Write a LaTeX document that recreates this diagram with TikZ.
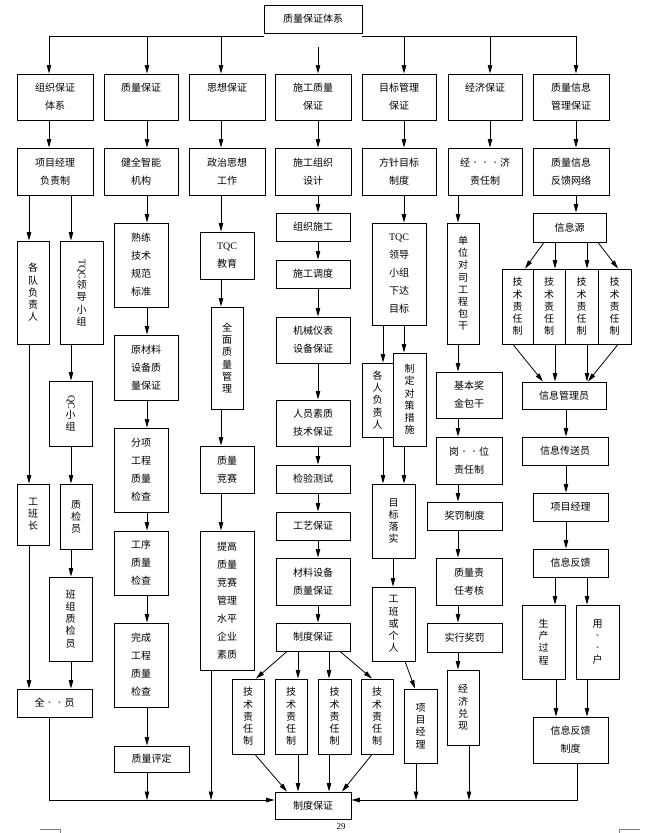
\documentclass[tikz,border=0pt]{standalone}
\usepackage{fontspec}
\setmainfont{Noto Sans CJK SC}
\newfontfamily\lat{Liberation Serif}
\usetikzlibrary{arrows.meta}
\newcommand\bx[7][box]{\node[#1, minimum width={(#5-#3)*1pt}, minimum height={(#6-#4)*1pt}] (#2) at ({(#3+#5)/2},{(#4+#6)/2}) {#7};}
\newcommand\va[3]{\coordinate (ta) at (#3,0); \draw[arr] (#1.south -| ta) -- (#2.north -| ta);}
\newcommand\da[4]{\coordinate (ta) at (#3,0); \coordinate (tb) at (#4,0); \draw[arr] (#1.south -| ta) -- (#2.north -| tb);}
\newcommand\ba[2]{\coordinate (ta) at (#2,0); \draw[arr] (#1.south -| ta) -- (ta |- by);}
\newcommand\dt{\textcolor{gray}{·}}
\newcommand\rtqc{\rotatebox[origin=c]{-90}{\lat TQC}}
\tikzset{
  box/.style={draw, line width=0.9pt, inner sep=0pt, align=center, font=\fontsize{10}{18}\selectfont},
  vbox/.style={box, font=\fontsize{10}{12.2}\selectfont},
  arr/.style={line width=0.8pt, -{Triangle[length=8.5pt,width=4.5pt]}},
  ln/.style={line width=0.8pt},
}
\begin{document}
\begin{tikzpicture}[x=1pt,y=-1pt]
\useasboundingbox (0,0) rectangle (649,833);
\fill[white] (0,0) rectangle (649,833);
% top
\bx{sys}{264}{5}{362}{33}{质量保证体系}
% row 1
\bx{r1a}{17}{74}{93}{120}{组织保证\\体系}
\bx{r1b}{104}{74}{178}{120}{质量保证\\\phantom{质}}
\bx{r1c}{189}{74}{265}{120}{思想保证\\\phantom{质}}
\bx{r1d}{275}{74}{351}{120}{施工质量\\保证}
\bx{r1e}{362}{74}{436}{120}{目标管理\\保证}
\bx{r1f}{448}{74}{522}{120}{经济保证\\\phantom{质}}
\bx{r1g}{533}{74}{609}{120}{质量信息\\管理保证}
% row 2
\bx{r2a}{17}{148}{93}{195}{项目经理\\负责制}
\bx{r2b}{104}{148}{178}{195}{健全智能\\机构}
\bx{r2c}{189}{148}{265}{195}{政治思想\\工作}
\bx{r2d}{275}{148}{351}{195}{施工组织\\设计}
\bx{r2e}{362}{148}{436}{195}{方针目标\\制度}
\bx{r2f}{448}{148}{522}{195}{经\dt\dt\dt 济\\责任制}
\bx{r2g}{533}{148}{609}{195}{质量信息\\反馈网络}
% top connectors
\coordinate (tl) at (49,36);
\coordinate (tr) at (577,36);
\draw[ln] (tl) -- (tl -| sys.west);
\draw[ln] (tr -| sys.east) -- (tr);
\foreach \n/\x in {r1a/49,r1b/147,r1c/221,r1e/404,r1f/490,r1g/576}{
  \coordinate (tt) at (\x,36);
  \draw[arr] (tt) -- (tt |- \n.north);
}
\coordinate (t4) at (318,47);
\draw[arr] (t4) -- (t4 |- r1d.north);
\va{r1a}{r2a}{49}
\va{r1b}{r2b}{147}
\va{r1c}{r2c}{221}
\va{r1d}{r2d}{318}
\va{r1e}{r2e}{404}
\va{r1f}{r2f}{490}
\va{r1g}{r2g}{576}
% column 1
\bx[vbox]{c1a}{17}{241}{49}{344}{各\\队\\负\\责\\人}
\bx[vbox]{c1b}{60}{241}{103}{344}{\rtqc\\领\\导\\小\\组}
\bx[vbox]{c1c}{49}{381}{92}{446}{\rotatebox[origin=c]{-90}{\lat QC}\\小\\组}
\bx[vbox]{c1d}{17}{484}{49}{545}{工\\班\\长}
\bx[vbox]{c1e}{60}{484}{92}{549}{质\\检\\员}
\bx[vbox]{c1f}{49}{577}{92}{661}{班\\组\\质\\检\\员}
\bx{c1g}{17}{689}{92}{717}{全\dt\dt 员}
\va{r2a}{c1a}{29}
\va{r2a}{c1b}{71}
\va{c1b}{c1c}{71}
\va{c1a}{c1d}{29}
\va{c1c}{c1e}{71}
\va{c1e}{c1f}{71}
\va{c1d}{c1g}{29}
\va{c1f}{c1g}{71}
% column 2
\bx{c2a}{114}{223}{168}{307}{熟练\\技术\\规范\\标准}
\bx{c2b}{114}{335}{178}{400}{原材料\\设备质\\量保证}
\bx{c2c}{114}{428}{168}{512}{分项\\工程\\质量\\检查}
\bx{c2d}{114}{531}{168}{595}{工序\\质量\\检查}
\bx{c2e}{114}{623}{168}{707}{完成\\工程\\质量\\检查}
\bx{c2f}{114}{746}{189}{772}{质量评定}
\va{r2b}{c2a}{147}
\va{c2a}{c2b}{147}
\va{c2b}{c2c}{147}
\va{c2c}{c2d}{147}
\va{c2d}{c2e}{147}
\va{c2e}{c2f}{147}
% column 3
\bx{c3a}{200}{232}{254}{279}{{\lat TQC}\\教育}
\bx[vbox]{c3b}{211}{307}{243}{409}{全\\面\\质\\量\\管\\理}
\bx{c3c}{200}{446}{254}{493}{质量\\竞赛}
\bx{c3d}{200}{531}{254}{670}{提高\\质量\\竞赛\\管理\\水平\\企业\\素质}
\va{r2c}{c3a}{221}
\va{c3a}{c3b}{221}
\va{c3b}{c3c}{221}
\va{c3c}{c3d}{221}
% column 4
\bx{c4a}{276}{213}{350}{241}{组织施工}
\bx{c4b}{276}{260}{350}{288}{施工调度}
\bx{c4c}{276}{317}{350}{363}{机械仪表\\设备保证}
\bx{c4d}{276}{400}{350}{446}{人员素质\\技术保证}
\bx{c4e}{276}{465}{350}{493}{检验测试}
\bx{c4f}{276}{512}{350}{540}{工艺保证}
\bx{c4g}{276}{558}{350}{605}{材料设备\\质量保证}
\bx{c4h}{276}{623}{350}{651}{制度保证}
\va{r2d}{c4a}{318}
\va{c4a}{c4b}{318}
\va{c4b}{c4c}{318}
\va{c4c}{c4d}{318}
\va{c4d}{c4e}{318}
\va{c4e}{c4f}{318}
\va{c4f}{c4g}{318}
\va{c4g}{c4h}{318}
\bx[vbox]{ja}{232}{679}{264}{754}{技\\术\\责\\任\\制}
\bx[vbox]{jb}{275}{679}{307}{754}{技\\术\\责\\任\\制}
\bx[vbox]{jc}{318}{679}{351}{754}{技\\术\\责\\任\\制}
\bx[vbox]{jd}{361}{679}{393}{754}{技\\术\\责\\任\\制}
\bx{fin}{275}{792}{351}{819}{制度保证}
\da{c4h}{ja}{287}{256}
\va{c4h}{jb}{298}
\va{c4h}{jc}{329}
\da{c4h}{jd}{340}{372}
\da{ja}{fin}{255}{287}
\va{jb}{fin}{298}
\va{jc}{fin}{329}
\da{jd}{fin}{372}{342}
% column 5
\bx{c5a}{372}{223}{426}{325}{{\lat TQC}\\领导\\小组\\下达\\目标}
\bx[vbox]{c5b}{362}{363}{393}{437}{各\\人\\负\\责\\人}
\bx[vbox]{c5c}{393}{353}{426}{446}{制\\定\\对\\策\\措\\施}
\bx[vbox]{c5d}{372}{484}{415}{558}{目\\标\\落\\实}
\bx[vbox]{c5e}{372}{587}{415}{661}{工\\班\\或\\个\\人}
\bx[vbox]{c5f}{404}{689}{437}{763}{项\\目\\经\\理}
\va{r2e}{c5a}{404}
\va{c5a}{c5b}{383}
\va{c5a}{c5c}{404}
\va{c5b}{c5d}{383}
\va{c5c}{c5d}{404}
\va{c5d}{c5e}{393}
\da{c5e}{c5f}{405}{415}
% column 6
\bx[vbox]{c6a}{447}{223}{479}{344}{单\\位\\对\\司\\工\\程\\包\\干}
\bx{c6b}{436}{372}{502}{418}{基本奖\\金包干}
\bx{c6c}{436}{437}{502}{484}{岗\dt\dt 位\\责任制}
\bx{c6d}{427}{502}{502}{530}{奖罚制度}
\bx{c6e}{436}{558}{502}{605}{质量责\\任考核}
\bx{c6f}{427}{623}{502}{652}{实行奖罚}
\bx[vbox]{c6g}{447}{670}{479}{745}{经\\济\\兑\\现}
\va{r2f}{c6a}{458}
\va{c6a}{c6b}{458}
\va{c6b}{c6c}{458}
\va{c6c}{c6d}{458}
\va{c6d}{c6e}{458}
\va{c6e}{c6f}{458}
\va{c6f}{c6g}{458}
% column 7
\bx{c7a}{533}{213}{606}{242}{信息源}
\bx[vbox]{ka}{502}{269}{533}{344}{技\\术\\责\\任\\制}
\bx[vbox]{kb}{533}{269}{565}{344}{技\\术\\责\\任\\制}
\bx[vbox]{kc}{565}{269}{598}{344}{技\\术\\责\\任\\制}
\bx[vbox]{kd}{598}{269}{631}{344}{技\\术\\责\\任\\制}
\bx{c7b}{522}{382}{606}{409}{信息管理员}
\bx{c7c}{522}{437}{608}{465}{信息传送员}
\bx{c7d}{533}{493}{608}{521}{项目经理}
\bx{c7e}{533}{549}{608}{577}{信息反馈}
\bx[vbox]{c7f}{522}{605}{565}{679}{生\\产\\过\\程}
\bx[vbox]{c7g}{576}{605}{619}{679}{用\\\dt\\\dt\\户}
\bx{c7h}{533}{717}{608}{763}{信息反馈\\制度}
\va{r2g}{c7a}{576}
\da{c7a}{ka}{544}{525}
\va{c7a}{kb}{555}
\va{c7a}{kc}{587}
\da{c7a}{kd}{598}{618}
\da{ka}{c7b}{513}{543}
\va{kb}{c7b}{555}
\va{kc}{c7b}{587}
\da{kd}{c7b}{618}{588}
\va{c7b}{c7c}{566}
\va{c7c}{c7d}{566}
\va{c7d}{c7e}{566}
\va{c7e}{c7f}{555}
\va{c7e}{c7g}{587}
\va{c7f}{c7h}{556}
\va{c7g}{c7h}{587}
% bottom collector
\coordinate (by) at (0,800);
\coordinate (ta) at (49,0);
\draw[arr] (c1g.south -| ta) -- (ta |- by) -- (fin.west |- by);
\ba{c2f}{147}
\ba{c3d}{211}
\ba{c5f}{416}
\ba{c6g}{469}
\coordinate (ta) at (577,0);
\draw[arr] (c7h.south -| ta) -- (ta |- by) -- (fin.east |- by);
% page marks
\draw[gray, line width=0.5pt] (40,829) -- (60,829) -- (60,833);
\draw[gray, line width=0.5pt] (640,829) -- (619,829) -- (619,833);
\node[font=\lat\fontsize{9}{10}\selectfont, anchor=north, inner sep=0pt] (pg) at (341,823) {29};
\end{tikzpicture}
\end{document}
